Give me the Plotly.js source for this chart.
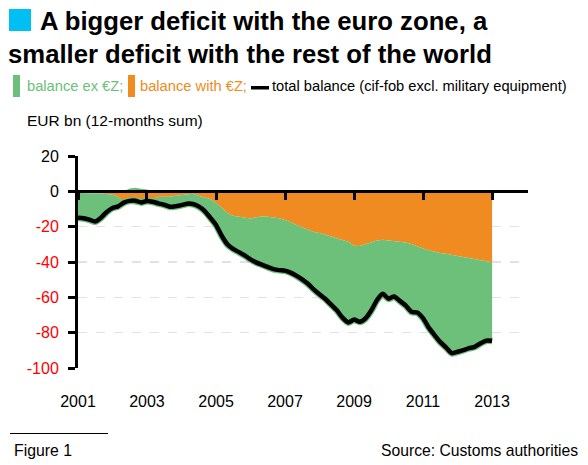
<!DOCTYPE html>
<html>
<head>
<meta charset="utf-8">
<script src="https://cdn.plot.ly/plotly-3.0.1.min.js"></script>
<style>html,body{margin:0;padding:0;background:#fff;}#chart{width:588px;height:465px;}</style>
</head>
<body>
<div id="chart"></div>
<script>
// ---- data (EUR bn, 12-month rolling sums, read every two months Jan 2001 - Jan 2013) ----
const years = [2001,2002,2003,2004,2005,2006,2007,2008,2009,2010,2011,2012];
const sampleMonths = ["01","03","05","07","09","11"];
const totalBalance = [
  -14.9,-15.2,-16.0,-17.1,-14.9,-11.7,
  -9.4,-8.5,-6.4,-5.4,-5.3,-6.3,
  -5.5,-5.9,-6.8,-7.6,-8.7,-8.4,
  -7.8,-7.0,-7.2,-8.5,-11.0,-14.9,
  -19.0,-25.0,-30.0,-32.6,-34.4,-36.3,
  -38.5,-40.2,-41.5,-42.8,-44.0,-44.6,
  -44.9,-46.0,-47.7,-49.8,-52.3,-55.5,
  -58.2,-60.8,-64.0,-67.2,-71.5,-74.2,
  -72.6,-73.8,-72.0,-67.5,-61.5,-58.0,
  -60.8,-59.5,-62.0,-64.6,-68.2,-68.6,
  -71.8,-77.0,-81.2,-85.2,-88.3,-91.6,
  -90.8,-89.9,-88.8,-88.0,-86.0,-84.5,
  -84.6];
const balanceWithEZ = [
  -1.0,-1.0,-1.0,-1.0,-1.2,-1.5,
  -2.0,-3.0,-6.2,-7.0,-7.3,-7.8,
  -6.5,-4.5,-3.0,-3.0,-3.0,-2.5,
  -2.0,-1.5,-1.3,-2.5,-3.5,-4.3,
  -6.4,-9.4,-12.2,-13.8,-14.3,-14.6,
  -15.4,-14.6,-14.2,-14.4,-14.7,-15.2,
  -16.2,-17.4,-19.1,-20.3,-21.8,-23.0,
  -23.6,-24.6,-25.9,-26.7,-27.6,-28.5,
  -30.8,-31.0,-29.8,-29.0,-27.8,-27.4,
  -27.7,-28.0,-28.3,-29.0,-29.8,-31.3,
  -32.4,-33.4,-34.3,-34.9,-35.4,-36.0,
  -36.6,-37.1,-37.8,-38.6,-39.1,-39.4,
  -40.2];
const xTickYears = ["2001","2003","2005","2007","2009","2011","2013"];
const yTickValues = [20,0,-20,-40,-60,-80,-100];

// ---- derived ----
const dates = [];
years.forEach(y => sampleMonths.forEach(m => dates.push(y + "-" + m + "-01")));
dates.push("2013-01-01");
const balanceExEZ = totalBalance.map((t,i) => +(t - balanceWithEZ[i]).toFixed(1));
const greenNegTop = balanceWithEZ.map((o,i) => o + Math.min(balanceExEZ[i],0));
const greenPos = balanceExEZ.map(g => Math.max(g,0));
const xTickDates = xTickYears.map(y => y + "-01-01");
const yTickText = yTickValues.map(v => v < 0 ? '<span style="color:#ff0000">' + v + '</span>' : String(v));

const GREEN = '#6DC07A', ORANGE = '#F08B21', CYAN = '#00BFF3';
const FONT = "'Liberation Sans Narrow', 'Arial Narrow', 'Liberation Sans', Arial, sans-serif";
const XRANGE = ['2001-01-01','2014-01-16'];

// pixel -> paper helpers for page furniture
const L = 78, R = 528, T = 156, B = 368;
const xp = px => (px - L) / (R - L);
const yp = py => (B - py) / (B - T);

const traces = [
  {x: dates, y: balanceWithEZ, type:'scatter', mode:'lines', fill:'tozeroy',
   fillcolor: ORANGE, line:{width:0, color:ORANGE}, name:'balance with €Z', hoverinfo:'skip'},
  {x: dates, y: greenNegTop, type:'scatter', mode:'lines', fill:'tonexty',
   fillcolor: GREEN, line:{width:0, color:GREEN}, name:'balance ex €Z', hoverinfo:'skip'},
  {x: dates, y: greenPos, type:'scatter', mode:'lines', fill:'tozeroy',
   fillcolor: GREEN, line:{width:0, color:GREEN}, name:'balance ex €Z (surplus)', hoverinfo:'skip'},
  {x: dates, y: totalBalance, type:'scatter', mode:'lines',
   line:{width:7, color:GREEN, shape:'spline', smoothing:0.6}, hoverinfo:'skip', name:'halo'},
  {x: dates, y: totalBalance, type:'scatter', mode:'lines',
   line:{width:4.5, color:'#000', shape:'spline', smoothing:0.6}, name:'total balance'},
  // carrier for the year labels on the bottom axis (invisible)
  {x: dates, y: totalBalance, xaxis:'x2', type:'scatter', mode:'lines', opacity:0,
   line:{width:0}, hoverinfo:'skip', name:'years'}
];

const legendY = 86;
const layout = {
  width:588, height:465,
  margin:{l:L, r:588-R, t:T, b:465-B, pad:0},
  paper_bgcolor:'#fff', plot_bgcolor:'#fff',
  showlegend:false,
  font:{family:FONT, size:16, color:'#000'},
  xaxis:{type:'date', range:XRANGE, anchor:'free', position:100/120,
    showline:true, linecolor:'#000', linewidth:3, ticks:'outside', ticklen:7, tickwidth:3,
    tickcolor:'#000', tickvals:xTickDates, showticklabels:false, showgrid:false, zeroline:false},
  xaxis2:{type:'date', range:XRANGE, overlaying:'x', anchor:'y', side:'bottom',
    tickvals:xTickDates, ticktext:xTickYears, showline:false, ticks:'', showgrid:false, zeroline:false,
    tickfont:{size:16, color:'#000'}, ticklabelstandoff:22},
  yaxis:{range:[-100,20], tickvals:yTickValues, ticktext:yTickText,
    showline:true, linecolor:'#000', linewidth:3, ticks:'outside', ticklen:7, tickwidth:3, tickcolor:'#000',
    showgrid:true, gridcolor:'#e2e2e2', griddash:'dash', gridwidth:1.5, zeroline:false,
    tickfont:{size:16, color:'#000'}, ticklabelstandoff:6},
  shapes:[
    {type:'rect', xref:'paper', yref:'paper', x0:xp(9), x1:xp(31), y0:yp(9), y1:yp(31), fillcolor:CYAN, line:{width:0}},
    {type:'rect', xref:'paper', yref:'paper', x0:xp(13), x1:xp(20), y0:yp(75), y1:yp(97), fillcolor:GREEN, line:{width:0}},
    {type:'rect', xref:'paper', yref:'paper', x0:xp(128), x1:xp(135), y0:yp(75), y1:yp(97), fillcolor:ORANGE, line:{width:0}},
    {type:'rect', xref:'paper', yref:'paper', x0:xp(251), x1:xp(269), y0:yp(86), y1:yp(89.5), fillcolor:'#000', line:{width:0}},
    {type:'line', xref:'paper', yref:'paper', x0:xp(10), x1:xp(108), y0:yp(433.5), y1:yp(433.5), line:{width:1, color:'#000'}}
  ],
  annotations:[
    {text:'<b>A bigger deficit with the euro zone, a</b>', x:xp(38), y:yp(20.5), xref:'paper', yref:'paper',
     xanchor:'left', yanchor:'middle', showarrow:false, font:{size:25.7, color:'#000', family:FONT}},
    {text:'<b>smaller deficit with the rest of the world</b>', x:xp(6), y:yp(54.5), xref:'paper', yref:'paper',
     xanchor:'left', yanchor:'middle', showarrow:false, font:{size:25.7, color:'#000', family:FONT}},
    {text:'balance ex €Z;', x:xp(25), y:yp(legendY), xref:'paper', yref:'paper', xanchor:'left', yanchor:'middle',
     showarrow:false, font:{size:14.7, color:GREEN}},
    {text:'balance with €Z;', x:xp(138), y:yp(legendY), xref:'paper', yref:'paper', xanchor:'left', yanchor:'middle',
     showarrow:false, font:{size:14.7, color:ORANGE}},
    {text:'total balance (cif-fob excl. military equipment)', x:xp(270), y:yp(legendY), xref:'paper', yref:'paper',
     xanchor:'left', yanchor:'middle', showarrow:false, font:{size:14.7, color:'#000'}},
    {text:'EUR bn (12-months sum)', x:xp(25), y:yp(120), xref:'paper', yref:'paper', xanchor:'left', yanchor:'middle',
     showarrow:false, font:{size:15.5, color:'#000'}},
    {text:'Figure 1', x:xp(12), y:yp(450), xref:'paper', yref:'paper', xanchor:'left', yanchor:'middle',
     showarrow:false, font:{size:15.8, color:'#000'}},
    {text:'Source: Customs authorities', x:xp(580), y:yp(450), xref:'paper', yref:'paper', xanchor:'right', yanchor:'middle',
     showarrow:false, font:{size:15.7, color:'#000'}}
  ]
};

Plotly.newPlot('chart', traces, layout, {displayModeBar:false, staticPlot:true});
</script>
</body>
</html>
